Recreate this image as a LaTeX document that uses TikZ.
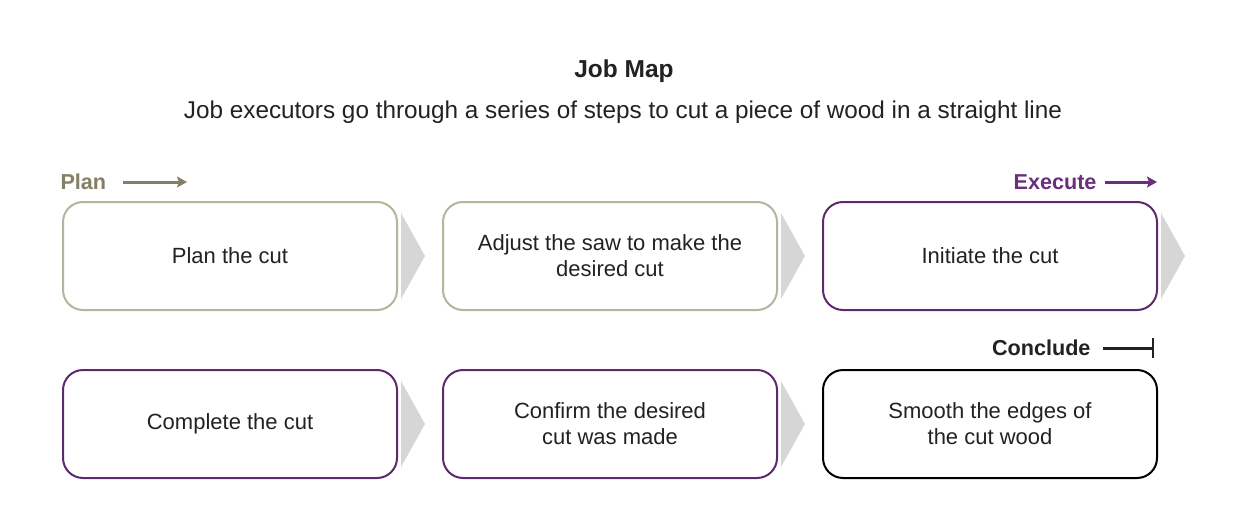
\documentclass[tikz,border=0pt]{standalone}
\usepackage{fontspec}
\setmainfont{Liberation Sans}
\usetikzlibrary{arrows.meta}
\definecolor{olive}{HTML}{B8B49C}
\definecolor{olivetxt}{HTML}{857F63}
\definecolor{purp}{HTML}{5E2A6E}
\definecolor{purptxt}{HTML}{6B2F7E}
\definecolor{chev}{HTML}{D6D6D6}
\definecolor{txt}{HTML}{222222}
\begin{document}
\begin{tikzpicture}[x=1pt,y=-1pt,
  stepbox/.style={draw, line width=2pt, rounded corners=20pt, minimum width=334pt, minimum height=108pt, align=center, font=\fontsize{22}{26}\selectfont, text=txt, fill=white},
  chevshape/.style={fill=chev, draw=none},
  phase/.style={font=\bfseries\fontsize{21.6}{24}\selectfont},
  phasearrow/.style={line width=3pt, -{Stealth[length=10pt,width=11pt,inset=2pt]}},
]
\useasboundingbox (0,0) rectangle (1248,527);
\fill[white] (0,0) rectangle (1248,527);
\node[font=\bfseries\fontsize{24.5}{28}\selectfont, text=txt] (title) at (624,71) {Job Map};
\node[font=\fontsize{24.3}{28}\selectfont, text=txt] (sub) at (623,112) {Job executors go through a series of steps to cut a piece of wood in a straight line};

\node[stepbox, draw=olive] (b1) at (230,256) {Plan the cut};
\node[stepbox, draw=olive] (b2) at (610,256) {Adjust the saw to make the\\desired cut};
\node[stepbox, draw=purp] (b3) at (990,256) {Initiate the cut};
\node[stepbox, draw=purp] (b4) at (230,424) {Complete the cut};
\node[stepbox, draw=purp] (b5) at (610,424) {Confirm the desired\\cut was made};
\node[stepbox, draw=black] (b6) at (990,424) {Smooth the edges of\\the cut wood};

\foreach \b in {b1,b2,b3,b4,b5}{
  \fill[chevshape] ([xshift=3pt,yshift=-43pt]\b.east) -- ([xshift=27pt]\b.east) -- ([xshift=3pt,yshift=43pt]\b.east) -- cycle;
}

\node[phase, text=olivetxt, anchor=west] (plan) at (57,182) {Plan};
\coordinate (planend) at (187,182);
\draw[olivetxt, phasearrow] ([xshift=13pt]plan.east) -- (planend);

\node[phase, text=purptxt, anchor=east] (exec) at (1100,182) {Execute};
\coordinate (execend) at (1157,182);
\draw[purptxt, phasearrow] ([xshift=5pt]exec.east) -- (execend);

\node[phase, text=txt, anchor=east] (concl) at (1094,348) {Conclude};
\coordinate (conclend) at (1154,348);
\draw[txt, line width=3pt, -{Bar[width=20pt,line width=2.5pt]}] ([xshift=9pt]concl.east) -- (conclend);
\end{tikzpicture}
\end{document}
